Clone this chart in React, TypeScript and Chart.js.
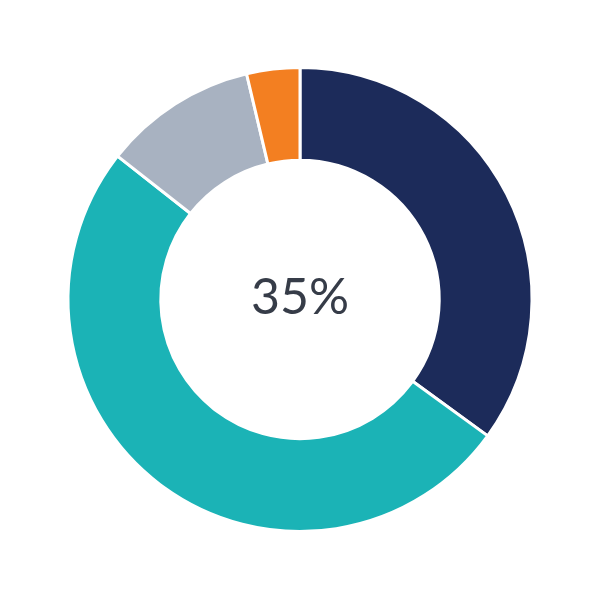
import { useEffect, useRef } from "react";
import { Chart, registerables, Plugin } from "chart.js";

Chart.register(...registerables);

const labels = ["Navy", "Teal", "Grey", "Orange"];
const values = [35, 50.6, 10.7, 3.7];
const colors = ["#1c2b5a", "#1bb3b6", "#a8b2c1", "#f37f21"];
const centerLabel = "35%";

const centerText: Plugin<"doughnut"> = {
  id: "centerText",
  afterDraw(chart) {
    const meta = chart.getDatasetMeta(0);
    const arc = meta.data[0] as any;
    if (!arc) return;
    const { ctx } = chart;
    ctx.save();
    ctx.font = "400 50px Lato, 'Open Sans', sans-serif";
    ctx.fillStyle = "#363c48";
    ctx.textAlign = "center";
    ctx.textBaseline = "middle";
    ctx.fillText(centerLabel, arc.x, arc.y - 2);
    ctx.restore();
  },
};

export default function App() {
  const canvasRef = useRef<HTMLCanvasElement | null>(null);

  useEffect(() => {
    document.body.style.margin = "0";
    const canvas = canvasRef.current;
    if (!canvas) return;

    const chart = new Chart(canvas, {
      type: "doughnut",
      data: {
        labels,
        datasets: [
          {
            data: values,
            backgroundColor: colors,
            borderColor: "#ffffff",
            borderWidth: 3,
          },
        ],
      },
      options: {
        responsive: false,
        animation: false,
        cutout: "60%",
        layout: { padding: { top: 66, bottom: 66, left: 66, right: 66 } },
        plugins: {
          legend: { display: false },
          tooltip: { enabled: false },
        },
      },
      plugins: [centerText],
    });

    return () => {
      chart.destroy();
    };
  }, []);

  return <canvas ref={canvasRef} width={600} height={599} style={{ display: "block" }} />;
}
